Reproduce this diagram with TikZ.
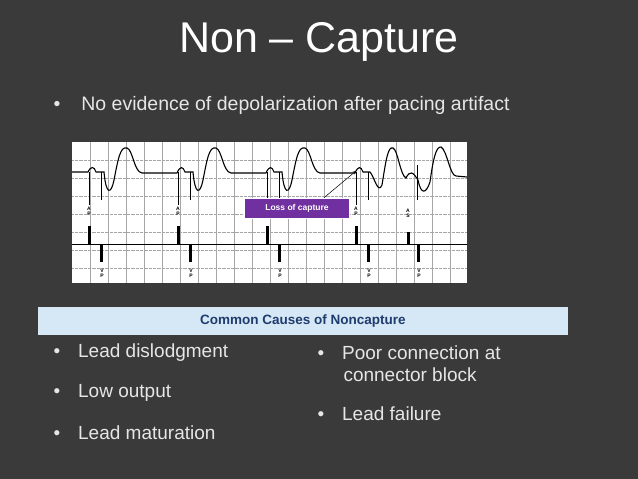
\documentclass[tikz,border=0pt]{standalone}
\usepackage{fontspec}
\setmainfont{Liberation Sans}
\definecolor{bg}{HTML}{3A3A3A}
\definecolor{txt}{HTML}{E6E6E6}
\definecolor{ban}{HTML}{D6E8F5}
\definecolor{bantxt}{HTML}{1F3C6E}
\definecolor{purp}{HTML}{7030A0}
\tikzset{bul/.style={anchor=west,text=txt,font=\fontsize{19}{22}\selectfont},
 ecg/.style={line width=1.1pt,black},
 grid/.style={gray!70,line width=0.3pt},
 tiny/.style={font=\fontsize{5}{5}\selectfont\bfseries,align=center,inner sep=0}}
\begin{document}
\begin{tikzpicture}[x=1pt,y=-1pt]
\useasboundingbox (0,0) rectangle (638,479);
\fill[bg] (0,0) rectangle (638,479);
\node[text=white,font=\fontsize{43}{48}\selectfont] (title) at (319,42) {Non – Capture};
\node[bul,font=\fontsize{19.5}{22}\selectfont] (b0) at (50,105) {•\hspace{21pt}No evidence of depolarization after pacing artifact};
% ECG strip
\fill[white] (72,142) rectangle (467,283);
\foreach \x in {90,108,...,466} \draw[grid] (\x,142) -- (\x,283);
\foreach \y in {160,178,...,282} \draw[grid,densely dotted] (72,\y) -- (467,\y);
\draw[ecg] (72,172) -- (88,172) .. controls (91,166) and (94,166) .. (96,172) -- (101,172)
 foreach \o in {0,89,178} {
  -- (101+\o,172) -- (104+\o,172) .. controls (106+\o,195) and (111+\o,195) .. (114+\o,180)
  .. controls (118+\o,160) and (120+\o,146) .. (127+\o,148) .. controls (133+\o,150) and (134+\o,172) .. (142+\o,173)
  -- (177+\o,173) .. controls (180+\o,166) and (183+\o,166) .. (185+\o,172) }
 -- (370,172) .. controls (374,176) and (378,195) .. (382,185) .. controls (386,160) and (388,146) .. (393,148)
 .. controls (398,150) and (400,175) .. (406,178) .. controls (410,170) and (413,172) .. (418,180)
 .. controls (421,195) and (426,194) .. (430,182) .. controls (433,160) and (436,146) .. (441,147)
 .. controls (447,150) and (450,176) .. (456,176) -- (467,177);
\foreach \o in {0,89,178,267} {
 \draw[ecg,line width=0.8pt] (89+\o,172) -- (89+\o,205);
 \draw[ecg,line width=0.8pt] (101+\o,172) -- (101+\o,200);
 \fill[black] (88+\o,226) rectangle (91+\o,244);
 \fill[black] (100+\o,244) rectangle (103+\o,262);
 \node[tiny] at (102+\o,273) {V\\P};
}
\foreach \o in {0,89,267} \node[tiny] at (89+\o,211) {A\\P};
\draw[ecg,line width=0.8pt] (417,165) -- (417,200);
\fill[black] (407,232) rectangle (410,244);
\fill[black] (417,244) rectangle (420,262);
\node[tiny] at (408,213) {A\\S};
\node[tiny] at (419,273) {V\\P};
\draw[ecg,line width=0.9pt] (72,244) -- (467,244);
\node[fill=purp,draw=white,line width=0.6pt,text=white,font=\bfseries\fontsize{8.5}{10}\selectfont,minimum width=105pt,minimum height=20pt,inner sep=1pt] (loss) at (297,208) {Loss of capture};
\coordinate (lc) at (356,171);
\draw[->,line width=0.5pt,>=stealth] (loss.north) ++(27,0) coordinate (ls) (ls) -- (lc);
% banner
\node[fill=ban,minimum width=530pt,minimum height=28pt,text=bantxt,font=\bfseries\fontsize{13.5}{15}\selectfont,inner sep=0] (banner) at (303,321) {Common Causes of Noncapture};
\node[bul] (l1) at (50,353) {•\hspace{18pt}Lead dislodgment};
\node[bul] (l2) at (50,393) {•\hspace{18pt}Low output};
\node[bul] (l3) at (50,433) {•\hspace{18pt}Lead maturation};
\node[bul] (r1) at (314,353) {•\hspace{18pt}Poor connection at};
\node[bul] (r1b) at (340,375) {connector block};
\node[bul] (r2) at (314,414) {•\hspace{18pt}Lead failure};
\end{tikzpicture}
\end{document}
